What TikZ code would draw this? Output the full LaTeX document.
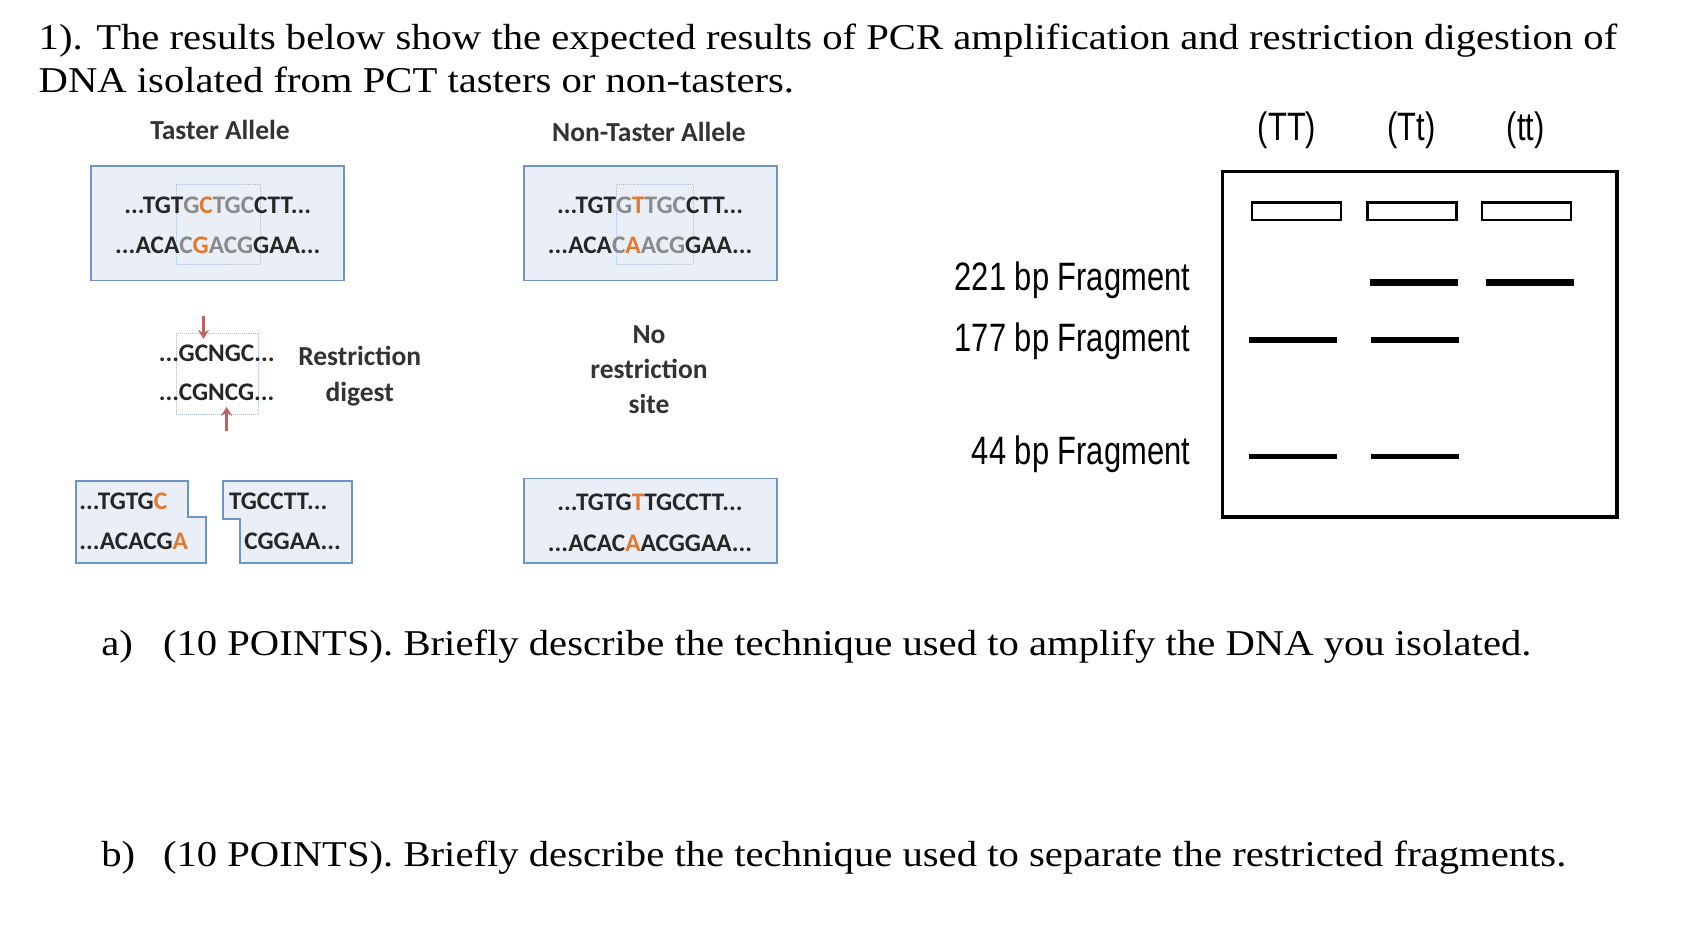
\documentclass[tikz,border=0pt]{standalone}
\usepackage{fontspec}
\setmainfont[FakeStretch=1.12]{Liberation Serif}
\newfontfamily\seqf{Carlito}
\newfontfamily\gelf[FakeStretch=0.78]{Liberation Sans}
\definecolor{bxfill}{HTML}{E9EEF7}
\definecolor{bxline}{HTML}{6F93C9}
\definecolor{orng}{HTML}{E2792E}
\definecolor{gry}{HTML}{8A8A8A}
\definecolor{arr}{HTML}{C0605F}
\usetikzlibrary{arrows.meta}
\tikzset{
 seqbox/.style={draw=bxline,fill=bxfill,line width=1.8pt},
 inner/.style={draw=bxline!60,densely dotted,line width=0.8pt},
 seq/.style={font=\seqf\bfseries\fontsize{23}{26}\selectfont,inner sep=0pt,text=black!85},
 lbl/.style={font=\seqf\bfseries\fontsize{25}{32}\selectfont,align=center,inner sep=0pt,text=black!80},
 gel/.style={font=\gelf\fontsize{36}{40}\selectfont,inner sep=0pt},
 band/.style={line width=5pt},
 cut/.style={arr,line width=2.2pt,-{Stealth[length=8pt,width=10pt]}},
 q/.style={font=\fontsize{33}{38}\selectfont,inner sep=0pt,anchor=west}
}
\newcommand{\og}[1]{\textcolor{orng}{#1}}
\newcommand{\gy}[1]{\textcolor{gry}{#1}}
\begin{document}
\begin{tikzpicture}[x=1pt,y=-1pt]
\useasboundingbox (0,0) rectangle (1550,858);
% title
\node[q] (t1) at (35,37) {1). The results below show the expected results of PCR amplification and restriction digestion of};
\node[q] (t2) at (35,73) {DNA isolated from PCT tasters or non-tasters.};
% headers
\node[lbl] (ta) at (200,118) {Taster Allele};
\node[lbl] (nta) at (590,120) {Non-Taster Allele};
% top boxes
\draw[seqbox] (83,151) rectangle (313,255);
\draw[inner] (160,168) rectangle (237,240);
\node[seq] (s1) at (198,187) {...TGT\gy{G}\og{C}\gy{TGC}CTT...};
\node[seq] (s2) at (198,223) {...ACA\gy{C}\og{G}\gy{ACG}GAA...};
\draw[seqbox] (476,151) rectangle (706,255);
\draw[inner] (560,168) rectangle (630,240);
\node[seq] (n1) at (591,187) {...TGT\gy{G}\og{T}\gy{TGC}CTT...};
\node[seq] (n2) at (591,223) {...ACA\gy{C}\og{A}\gy{ACG}GAA...};
% restriction site
\draw[inner] (160,303) rectangle (235,377);
\node[seq] (r1) at (197,321) {...GCNGC...};
\node[seq] (r2) at (197,357) {...CGNCG...};
\coordinate (a1) at (185,287); \coordinate (a1e) at (185,308);
\coordinate (a2) at (206,392); \coordinate (a2e) at (206,370);
\draw[cut] (a1) -- (a1e);
\draw[cut] (a2) -- (a2e);
\node[lbl] (rd) at (327,342) {Restriction\\digest};
\node[lbl] (nr) at (590,336) {No\\restriction\\site};
% fragments
\draw[seqbox] (69,437) -- (171,437) -- (171,470) -- (187,470) -- (187,512) -- (69,512) -- cycle;
\node[seq,anchor=west] (f1) at (72,456) {...TGTG\og{C}};
\node[seq,anchor=west] (f2) at (72,492) {...ACACG\og{A}};
\draw[seqbox] (203,437) -- (320,437) -- (320,512) -- (218,512) -- (218,472) -- (203,472) -- cycle;
\node[seq,anchor=west] (f3) at (208,456) {TGCCTT...};
\node[seq,anchor=west] (f4) at (222,492) {CGGAA...};
\draw[seqbox] (476,435) rectangle (706,512);
\node[seq] (n3) at (591,457) {...TGTG\og{T}TGCCTT...};
\node[seq] (n4) at (591,494) {...ACAC\og{A}ACGGAA...};
% gel
\draw[line width=2.8pt] (1111,156) rectangle (1470,470);
\foreach \x in {1138,1243,1347} \draw[line width=2.2pt] (\x,184) rectangle ++(81,16);
\node[gel] (l1) at (1170,118) {(TT)};
\node[gel] (l2) at (1283,118) {(Tt)};
\node[gel] (l3) at (1387,118) {(tt)};
\draw[band,line width=6pt] (1245,257) -- (1325,257);
\draw[band,line width=6pt] (1351,257) -- (1431,257);
\draw[band] (1135,309) -- (1215,309);
\draw[band] (1246,309) -- (1326,309);
\draw[band] (1135,415) -- (1215,415);
\draw[band] (1246,415) -- (1326,415);
\node[gel,anchor=east] (g1) at (1082,255) {221 bp Fragment};
\node[gel,anchor=east] (g2) at (1082,310) {177 bp Fragment};
\node[gel,anchor=east] (g3) at (1082,413) {44 bp Fragment};
% questions
\node[q] (qa) at (92,588) {a)};
\node[q] (qat) at (148,588) {(10 POINTS). Briefly describe the technique used to amplify the DNA you isolated.};
\node[q] (qb) at (92,780) {b)};
\node[q] (qbt) at (148,780) {(10 POINTS). Briefly describe the technique used to separate the restricted fragments.};
\end{tikzpicture}
\end{document}
